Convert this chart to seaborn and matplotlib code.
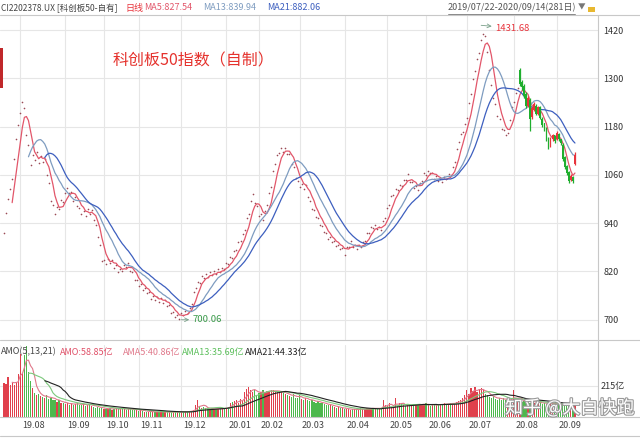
import numpy as np
import pandas as pd
import matplotlib
matplotlib.use("Agg")
import matplotlib.pyplot as plt
import matplotlib.patheffects as pe
import matplotlib.transforms as mtransforms
import seaborn as sns

sns.set_theme(style="white")
plt.rcParams["font.family"] = ["Noto Sans CJK SC", "DejaVu Sans"]

# ---------------- data ----------------
close = [
    915, 965, 1000, 1025, 1050, 1100, 1150, 1185, 1215, 1240,
    1225, 1160, 1135, 1085, 1110, 1098, 1118, 1090, 1108, 1092,
    1100, 1060, 1040, 995, 985, 962, 980, 975, 998, 992,
    1015, 1028, 1016, 1018, 995, 1005, 982, 978, 962, 970,
    958, 975, 962, 972, 948, 936, 905, 885, 845, 848,
    838, 852, 840, 848, 828, 835, 818, 826, 820, 835,
    830, 842, 822, 818, 798, 800, 784, 790, 774, 780,
    766, 770, 752, 758, 748, 756, 745, 753, 741, 748,
    735, 737, 718, 720, 708, 712, 702, 716, 711, 721,
    716, 730, 738, 770, 780, 795, 791, 808, 803, 813,
    806, 818, 811, 821, 814, 825, 818, 828, 826, 842,
    838, 855, 853, 871, 873, 893, 896, 913, 924, 953,
    962, 995, 1012, 990, 982, 958, 962, 948, 971, 984,
    1015, 1030, 1070, 1086, 1110, 1114, 1128, 1116, 1126, 1112,
    1112, 1088, 1080, 1052, 1046, 1030, 1038, 1026, 1034, 1004,
    996, 975, 972, 955, 954, 936, 934, 917, 916, 901,
    905, 892, 895, 883, 887, 875, 879, 862, 880, 882,
    896, 882, 886, 876, 886, 880, 892, 896, 916, 916,
    931, 928, 935, 925, 931, 923, 946, 954, 978, 984,
    1007, 1010, 1024, 1022, 1036, 1033, 1048, 1047, 1062, 1042,
    1042, 1028, 1033, 1022, 1041, 1046, 1064, 1060, 1070, 1064,
    1065, 1051, 1056, 1045, 1051, 1042, 1054, 1050, 1061, 1060,
    1079, 1091, 1124, 1141, 1162, 1166, 1186, 1201, 1239, 1261,
    1299, 1318, 1349, 1364, 1394, 1411, 1404, 1366, 1321, 1284,
    1251, 1236, 1206, 1199, 1174, 1172, 1158, 1164, 1196, 1229,
    1241, 1264, 1276,
    # candlestick days
    1285, 1278, 1255, 1232, 1250, 1200, 1225, 1235, 1212, 1228,
    1202, 1185, 1172, 1150, 1130, 1150, 1158, 1145, 1165, 1148,
    1140, 1100, 1080, 1065, 1045, 1058, 1045, 1110,
]
cndl_open = [1320, 1290, 1282, 1262, 1232, 1246, 1205, 1222, 1232, 1212,
             1228, 1200, 1188, 1175, 1152, 1135, 1148, 1158, 1150, 1162,
             1148, 1135, 1105, 1082, 1068, 1048, 1055, 1088]
cndl_high = [1325, 1296, 1285, 1265, 1256, 1250, 1230, 1240, 1236, 1232,
             1230, 1204, 1190, 1178, 1155, 1153, 1162, 1160, 1168, 1165,
             1150, 1138, 1108, 1085, 1070, 1062, 1058, 1116]
cndl_low = [1280, 1272, 1250, 1226, 1228, 1170, 1200, 1218, 1208, 1208,
            1198, 1180, 1168, 1145, 1125, 1130, 1145, 1140, 1147, 1145,
            1135, 1095, 1075, 1060, 1040, 1044, 1040, 1085]

amo = [
    236, 230, 277, 225, 235, 220, 240, 300, 440, 300, 430, 490, 310, 250, 200,
    165, 150, 160, 145,
    140, 130, 150, 125, 135, 120, 115,
    105, 115, 95, 100, 90, 95, 85,
    95, 85, 90, 100, 80, 85, 90, 78, 85, 92, 75, 70, 65, 72, 62,
    60, 55, 52, 58, 65, 50, 55, 60, 52, 58, 65, 55, 50, 52, 58, 50, 46, 52, 44, 48,
    42, 38, 36, 34, 40, 37, 34, 32, 36, 40, 34, 32, 34, 36, 32, 34, 38, 34, 32, 36,
    34, 40, 38, 42, 45, 50,
    80, 118, 75, 65, 70, 60, 55,
    55, 60, 52, 58, 55, 62, 58, 60, 65, 68,
    95, 105, 110, 120, 100, 125, 110,
    175, 195, 205, 185, 175, 190,
    150, 165, 175, 185, 170, 180, 175, 190, 185, 175, 180, 170, 175, 165, 160, 150, 145,
    140, 160, 135, 130, 150, 125, 120, 130, 115, 110, 120, 105, 100, 110, 95,
    95, 90, 85, 80, 85, 75, 70, 65, 68, 60, 62, 55, 58, 52, 50,
    52, 58, 48, 50, 60, 55, 58, 62, 55, 60, 65, 58, 60, 55, 62,
    120, 80, 75, 95, 70, 72, 130, 78, 100, 88, 80, 75, 82, 90, 78,
    85, 90, 80, 88, 92, 85, 95, 80, 78, 85, 90, 82, 88, 85, 92, 95, 88, 90, 95, 100,
    98, 105, 110, 120, 130,
    150, 190, 160, 200, 180, 205, 170, 195, 200, 185,
    160, 150, 140, 130, 145, 125, 120, 135, 115, 130,
    120, 115, 110, 125, 190, 115, 110, 120, 105, 112, 108, 115, 100, 110, 100,
    100, 95, 105, 92, 98, 90, 95, 100, 88, 92, 95, 90, 85, 88, 92, 90, 85, 95, 80, 85,
]

month_labels = ["19.08", "19.09", "19.10", "19.11", "19.12", "20.01", "20.02",
                "20.03", "20.04", "20.05", "20.06", "20.07", "20.08", "20.09"]
month_start = [8, 30, 49, 66, 87, 109, 125, 145, 167, 188, 207, 227, 250, 271]
price_ticks = [700, 820, 940, 1060, 1180, 1300, 1420]
vol_tick = 215
peak_high = 1431.68
low_value = 700.06

# ---------------- derived ----------------
n = len(close)
df = pd.DataFrame({"day": np.arange(n), "close": close, "amo": amo})
for w in (5, 13, 21):
    df[f"MA{w}"] = df["close"].rolling(w).mean()
    df[f"AMA{w}"] = df["amo"].rolling(w).mean()
df["up"] = df["close"].diff().fillna(1) >= 0
first_c = n - len(cndl_open)
pre = df.iloc[:first_c]
cd = pd.DataFrame({"day": np.arange(first_c, n), "open": cndl_open,
                   "high": cndl_high, "low": cndl_low,
                   "close": close[first_c:]})
cd["up"] = cd["close"] >= cd["open"]

RED = "#e8343c"
GREEN = "#1fae2e"
VRED = "#e0404c"
VGREEN = "#4db84d"
C_MA5 = "#e2566a"
C_MA13 = "#7e9cc0"
C_MA21 = "#3d5fbf"
GRID = "#e6e6e6"
LINE = "#c8c8c8"

W, H = 640, 438
fig = plt.figure(figsize=(W / 100, H / 100), dpi=100)
fig.patch.set_facecolor("white")


def fx(x):
    return x / W


def fy(y):
    return 1 - y / H


ax = fig.add_axes([0, fy(340), 598 / W, (340 - 15) / H])
axv = fig.add_axes([0, fy(417), 598 / W, (417 - 345) / H])

xlim = (-1.96, 291.3)
for a in (ax, axv):
    a.set_xlim(*xlim)
    a.set_facecolor("white")
    for s in a.spines.values():
        s.set_visible(False)
    for m in month_start:
        a.axvline(m, color=GRID, lw=0.8, zorder=0)

# ---------------- main price panel ----------------
ax.set_ylim(649.7, 1457.3)
for p in price_ticks:
    ax.axhline(p, color=GRID, lw=0.8, zorder=0)

# daily marks for the self-made period
ax.scatter(pre["day"], pre["close"], s=1.4, color="#9a4a55", linewidths=0, zorder=2)

sns.lineplot(data=df, x="day", y="MA5", ax=ax, color=C_MA5, lw=0.9, zorder=3)
sns.lineplot(data=df, x="day", y="MA13", ax=ax, color=C_MA13, lw=0.9, zorder=3)
sns.lineplot(data=df, x="day", y="MA21", ax=ax, color=C_MA21, lw=0.9, zorder=3)

ccol = np.where(cd["up"], RED, GREEN)
ax.vlines(cd["day"], cd["low"], cd["high"], colors=ccol, lw=0.9, zorder=4)
ax.bar(cd["day"], (cd["close"] - cd["open"]).abs().clip(lower=3),
       bottom=np.minimum(cd["open"], cd["close"]), width=0.85,
       color=ccol, zorder=5, linewidth=0)

ax.set_xlabel("")
ax.set_ylabel("")
ax.yaxis.tick_right()
ax.set_yticks(price_ticks)
ax.set_yticklabels([str(p) for p in price_ticks])
ax.tick_params(axis="y", length=0, pad=4, labelsize=6.5, labelcolor="#333333")
ax.set_xticks([])

# peak / low annotations
pk = int(np.argmax(close))
ax.annotate(f"{peak_high:.2f}", xy=(pk - 1, peak_high), xytext=(10, -2),
            textcoords="offset points", color=RED, fontsize=6.8, va="center",
            ha="left",
            arrowprops=dict(arrowstyle="<-", color="#7aa08a", lw=0.6,
                            shrinkA=0, shrinkB=0))
lo = int(np.argmin(close))
ax.annotate(f"{low_value:.2f}", xy=(lo + 1, low_value), xytext=(8, 0),
            textcoords="offset points", color="#3a9a4a", fontsize=6.8, va="center",
            ha="left",
            arrowprops=dict(arrowstyle="<-", color="#7aa08a", lw=0.6,
                            shrinkA=0, shrinkB=0))

# ---------------- volume panel ----------------
axv.set_ylim(0, 499)
axv.axhline(vol_tick, color=GRID, lw=0.8, zorder=0)
vcol = np.where(df["up"], VRED, VGREEN)
axv.bar(df["day"], df["amo"], width=0.6, color=vcol, linewidth=0, zorder=2,
        antialiased=False)
sns.lineplot(data=df, x="day", y="AMA5", ax=axv, color="#e0788a", lw=0.8, zorder=3)
sns.lineplot(data=df, x="day", y="AMA13", ax=axv, color="#7cc87c", lw=0.8, zorder=3)
sns.lineplot(data=df, x="day", y="AMA21", ax=axv, color="#222222", lw=0.8, zorder=3)
axv.set_xlabel("")
axv.set_ylabel("")
axv.set_yticks([])
axv.set_xticks(month_start)
axv.set_xticklabels(month_labels)
axv.tick_params(axis="x", length=0, pad=3, labelsize=6.5, labelcolor="#444444")
off = mtransforms.ScaledTranslation(2 / 100, 0, fig.dpi_scale_trans)
for lab in axv.get_xticklabels():
    lab.set_horizontalalignment("left")
    lab.set_transform(lab.get_transform() + off)

fig.text(fx(601), fy(386), f"{vol_tick}亿", fontsize=6.5, color="#333333", va="center")

# ---------------- frame lines ----------------
for y in (15, 340, 417, 436):
    fig.add_artist(plt.Line2D([0, 1], [fy(y), fy(y)], color=LINE, lw=0.8))
fig.add_artist(plt.Line2D([fx(598), fx(598)], [fy(15), fy(417)], color=LINE, lw=0.8))
fig.add_artist(plt.Rectangle((0, fy(88)), fx(2.5), 40 / H, color="#c0282a", lw=0))

# ---------------- headers ----------------
def t(x, y, s, c, fs=6.5):
    fig.text(fx(x), fy(y), s, color=c, fontsize=fs, va="center", ha="left")


t(1, 8, "CI2202378.UX [科创板50-自有]", "#444444", 6.1)
t(125, 8, "日线", RED)
t(144, 8, "MA5:827.54", C_MA5)
t(203, 8, "MA13:839.94", C_MA13)
t(267, 8, "MA21:882.06", C_MA21)
t(448, 8, "2019/07/22-2020/09/14(281日)", "#555555", 6.5)
fig.add_artist(plt.Line2D([fx(448), fx(575)], [fy(14), fy(14)], color="#777777", lw=0.6))
t(578, 8, "▼", "#777777", 5.5)
fig.add_artist(plt.Rectangle((fx(588), fy(12)), fx(7), 5 / H, color="#e8b830", lw=0))

t(113, 61, "科创板50指数（自制）", "#e5322d", 11.5)

t(1, 352, "AMO(5,13,21)", "#444444")
t(60, 352, "AMO:58.85亿", "#e05068")
t(123, 352, "AMA5:40.86亿", "#e0788a")
t(182, 352, "AMA13:35.69亿", "#5cbf5c")
t(245, 352, "AMA21:44.33亿", "#222222")

# watermark
fig.text(fx(505), fy(408), "知乎 @大白快跑", fontsize=13, color="white", va="center",
         ha="left", zorder=10,
         path_effects=[pe.withStroke(linewidth=1.6, foreground="#9a9a9a")])

fig.savefig("out.png", dpi=100, facecolor="white")
